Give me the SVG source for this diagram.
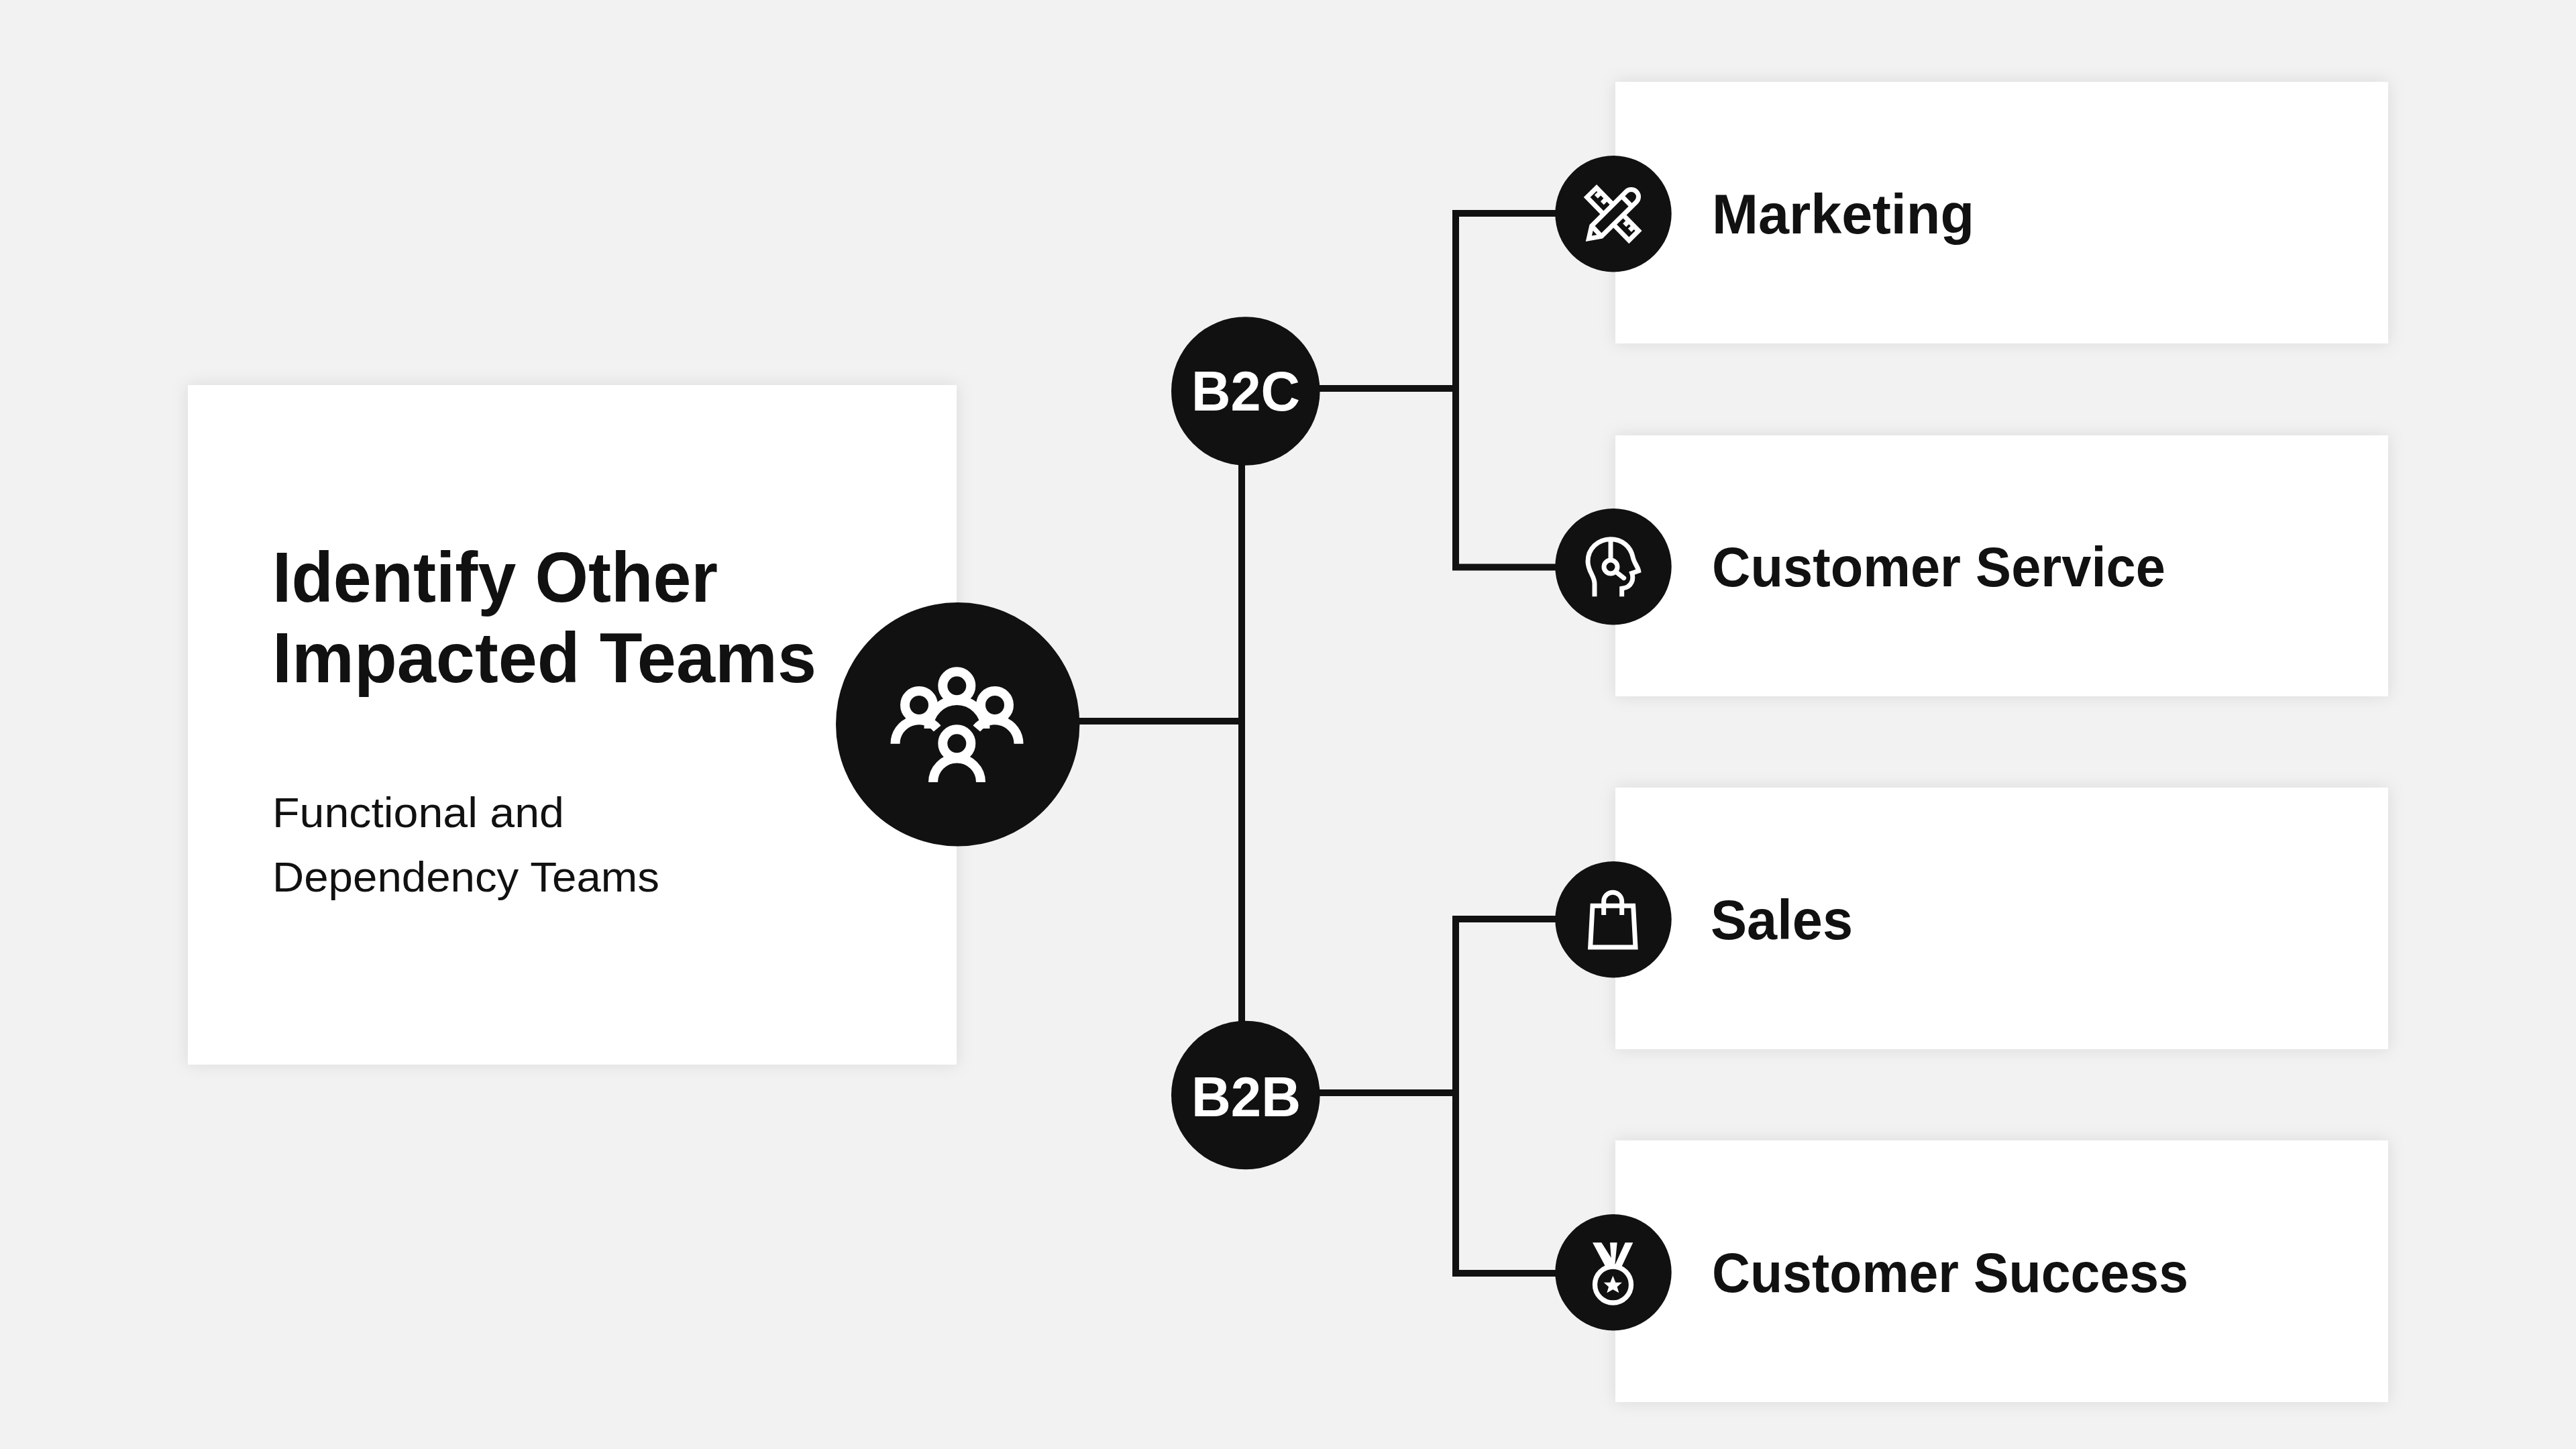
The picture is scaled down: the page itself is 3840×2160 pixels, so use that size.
<svg xmlns="http://www.w3.org/2000/svg" width="3840" height="2160" viewBox="0 0 3840 2160">
<defs>
<filter id="sh" x="-6%" y="-8%" width="112%" height="116%"><feDropShadow dx="0" dy="0" stdDeviation="12" flood-color="#000" flood-opacity="0.1"/></filter>
</defs>
<style>
.card{fill:#fff;filter:url(#sh)}
.disc{fill:#111}
.wire{fill:none;stroke:#111;stroke-width:10}
.ic{fill:none;stroke:#fff;stroke-width:21;stroke-linejoin:miter}
.solid{fill:#fff;stroke:none}
text{font-family:"Liberation Sans",Arial,sans-serif;fill:#111}
.title{font-size:106px;font-weight:700}
.sub{font-size:63px}
.label{font-size:84px;font-weight:700}
.hub{font-size:84px;font-weight:700;fill:#fff}
</style>
<rect width="3840" height="2160" fill="#f2f2f2"/>
<g id="cards">
<rect class="card" x="280" y="574" width="1146" height="1013"/>
<rect class="card" x="2408" y="122" width="1152" height="390"/>
<rect class="card" x="2408" y="649" width="1152" height="389"/>
<rect class="card" x="2408" y="1174" width="1152" height="390"/>
<rect class="card" x="2408" y="1700" width="1152" height="390"/>
</g>
<g id="connectors">
<path class="wire" d="M1600 1075H1851M1851 690V1530"/>
<path class="wire" d="M1960 579H2170M2330 318H2170V845.500H2330"/>
<path class="wire" d="M1960 1629H2170M2330 1370H2170V1898H2330"/>
</g>
<g id="root">
<circle class="disc" cx="1427.700" cy="1079.700" r="181.700"/>
<g class="ic" style="stroke-width:14">
<circle cx="1426.300" cy="1022.300" r="21"/>
<circle cx="1370" cy="1051" r="21"/>
<circle cx="1483" cy="1051" r="21"/>
<circle cx="1426.300" cy="1108.300" r="21"/>
<path d="M1391 1166a35.500 35.500 0 0 1 71 0"/>
<path d="M1334.500 1108.700A35.500 35.500 0 0 1 1397.200 1085.900"/>
<path d="M1518.500 1108.700A35.500 35.500 0 0 0 1455.800 1085.900"/>
<path d="M1384.500 1086A42 42 0 0 1 1468.500 1086"/>
</g>
</g>
<g id="b2c"><circle class="disc" cx="1856.800" cy="583" r="110.800"/><text class="hub" x="1776" y="611.700" textLength="162" lengthAdjust="spacingAndGlyphs">B2C</text></g>
<g id="b2b"><circle class="disc" cx="1856.800" cy="1632.500" r="110.800"/><text class="hub" x="1776" y="1664" textLength="163" lengthAdjust="spacingAndGlyphs">B2B</text></g>
<g id="marketing"><circle class="disc" cx="2405" cy="318.700" r="86.700"/>
<g class="ic" transform="translate(2300 220) scale(.33333)">
<path d="M240 180L197 222L385 415L428 372ZM258 200L238 220M285 228L265 248M385 327L365 347M408 350L388 370"/>
<path style="fill:#111" d="M205 407L218 350L372 197A32 32 0 0 1 418 243L262 397Z"/>
<path d="M218 350L262 397M352 217L398 263"/>
</g>
<text class="label" x="2552" y="348" textLength="391" lengthAdjust="spacingAndGlyphs">Marketing</text></g>
<g id="service"><circle class="disc" cx="2405" cy="844.700" r="86.700"/>
<g class="ic" transform="translate(2300 745) scale(.33333)">
<path d="M231 433V375C231 340 201 320 201 275C201 220 245 176 303 176C355 176 392 210 402 255C406 280 425 300 428 318L398 328C406 350 402 392 353 397V433"/>
<path d="M303 176V270"/>
<circle cx="303" cy="300" r="30"/>
<path style="stroke-linecap:round" d="M330 325L362 350"/>
</g>
<text class="label" x="2552" y="874" textLength="676" lengthAdjust="spacingAndGlyphs">Customer Service</text></g>
<g id="sales"><circle class="disc" cx="2405" cy="1370.700" r="86.700"/>
<g class="ic" transform="translate(2300 1270) scale(.33333)">
<path d="M222 241H404L414 426H212Z"/>
<path d="M272 282V221A40.500 40.500 0 0 1 353 221V282"/>
</g>
<text class="label" x="2550" y="1400" textLength="212" lengthAdjust="spacingAndGlyphs">Sales</text></g>
<g id="success"><circle class="disc" cx="2405" cy="1896.700" r="86.700"/>
<g class="ic" transform="translate(2300 1795) scale(.33333)">
<circle cx="313.500" cy="360" r="81" style="stroke-width:22"/>
<path class="solid" d="M222 172H262L305 240L300 172H332L322 272L368 172H403L352 280H280Z"/>
<path class="solid" d="M313 320L325 350L354 350L332 370L340 397L313 382L286 397L294 370L272 350L301 350Z"/>
</g>
<text class="label" x="2552" y="1926" textLength="710" lengthAdjust="spacingAndGlyphs">Customer Success</text></g>
<g id="heading">
<text class="title" x="406" y="896.500" textLength="664" lengthAdjust="spacingAndGlyphs">Identify Other</text>
<text class="title" x="406" y="1017" textLength="811" lengthAdjust="spacingAndGlyphs">Impacted Teams</text>
<text class="sub" x="406" y="1233" textLength="435" lengthAdjust="spacingAndGlyphs">Functional and</text>
<text class="sub" x="406" y="1329" textLength="577" lengthAdjust="spacingAndGlyphs">Dependency Teams</text>
</g>
</svg>
